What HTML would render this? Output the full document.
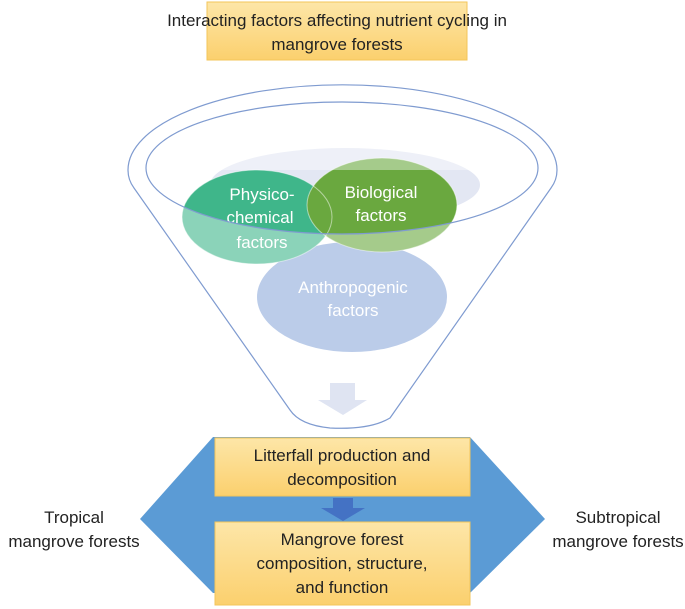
<!DOCTYPE html>
<html><head><style>
body{margin:0;background:#fff;}
svg{display:block;font-family:"Liberation Sans",sans-serif;}
</style></head><body>
<svg width="685" height="609" viewBox="0 0 685 609" xmlns="http://www.w3.org/2000/svg">
<defs>
<linearGradient id="g" x1="0" y1="0" x2="0" y2="1">
<stop offset="0" stop-color="#fde6a8"/><stop offset="1" stop-color="#fbd06e"/>
</linearGradient>
</defs>
<rect x="207" y="2" width="260" height="58" fill="url(#g)" stroke="#f3c55a" stroke-width="1"/>
<text x="337" y="26" font-size="17" text-anchor="middle" fill="#222">Interacting factors affecting nutrient cycling in</text>
<text x="337" y="50" font-size="17" text-anchor="middle" fill="#222">mangrove forests</text>

<ellipse cx="345" cy="185" rx="135" ry="37" fill="#e3e7f3"/>
<ellipse cx="352" cy="297" rx="95" ry="55" fill="#8eaadb"/>
<ellipse cx="257" cy="217" rx="75" ry="47" fill="#3fb68a"/>
<ellipse cx="382" cy="205" rx="75" ry="47" fill="#6aa83f"/>
<path d="M100,170 H585 V420 H100 Z M146,168 A196,66 0 1,0 538,168 A196,66 0 1,0 146,168 Z" fill="#fff" fill-opacity="0.4" fill-rule="evenodd"/>
<ellipse cx="257" cy="217" rx="75" ry="47" fill="none" stroke="#fff" stroke-opacity="0.5"/>
<ellipse cx="382" cy="205" rx="75" ry="47" fill="none" stroke="#fff" stroke-opacity="0.5"/>

<text x="262" y="200" font-size="17" text-anchor="middle" fill="#fff">Physico-</text>
<text x="260" y="223" font-size="17" text-anchor="middle" fill="#fff">chemical</text>
<text x="262" y="248" font-size="17" text-anchor="middle" fill="#fff">factors</text>
<text x="381" y="198" font-size="17" text-anchor="middle" fill="#fff">Biological</text>
<text x="381" y="221" font-size="17" text-anchor="middle" fill="#fff">factors</text>
<text x="353" y="293" font-size="17" text-anchor="middle" fill="#fff">Anthropogenic</text>
<text x="353" y="316" font-size="17" text-anchor="middle" fill="#fff">factors</text>

<g fill="none" stroke="#7f9bd0" stroke-width="1.2">
<path d="M128,170 A214,85 0 0,1 557,170"/>
<path d="M128,170 Q128,180 134,188 L290,410 Q300,425 330,428 Q370,430 390,418 L551,188 Q557,180 557,170"/>
<ellipse cx="342" cy="168" rx="196" ry="66"/>
</g>
<path d="M330,383 H355 V400 H367 L343,415 L318,400 H330 Z" fill="#dfe4f2"/>

<polygon points="140,519 213,437 470,437 545,519 470,593 213,593" fill="#5b9bd5"/>
<rect x="215" y="438" width="255" height="58" fill="url(#g)" stroke="#f3c55a"/>
<rect x="215" y="522" width="255" height="83" fill="url(#g)" stroke="#f3c55a"/>
<text x="342" y="461" font-size="17" text-anchor="middle" fill="#222">Litterfall production and</text>
<text x="342" y="485" font-size="17" text-anchor="middle" fill="#222">decomposition</text>
<text x="342" y="545" font-size="17" text-anchor="middle" fill="#222">Mangrove forest</text>
<text x="342" y="569" font-size="17" text-anchor="middle" fill="#222">composition, structure,</text>
<text x="342" y="593" font-size="17" text-anchor="middle" fill="#222">and function</text>
<path d="M333,498 H353 V508 H365 L343,521 L321,508 H333 Z" fill="#4472c4"/>

<text x="74" y="523" font-size="17" text-anchor="middle" fill="#222">Tropical</text>
<text x="74" y="547" font-size="17" text-anchor="middle" fill="#222">mangrove forests</text>
<text x="618" y="523" font-size="17" text-anchor="middle" fill="#222">Subtropical</text>
<text x="618" y="547" font-size="17" text-anchor="middle" fill="#222">mangrove forests</text>
</svg>
</body></html>
